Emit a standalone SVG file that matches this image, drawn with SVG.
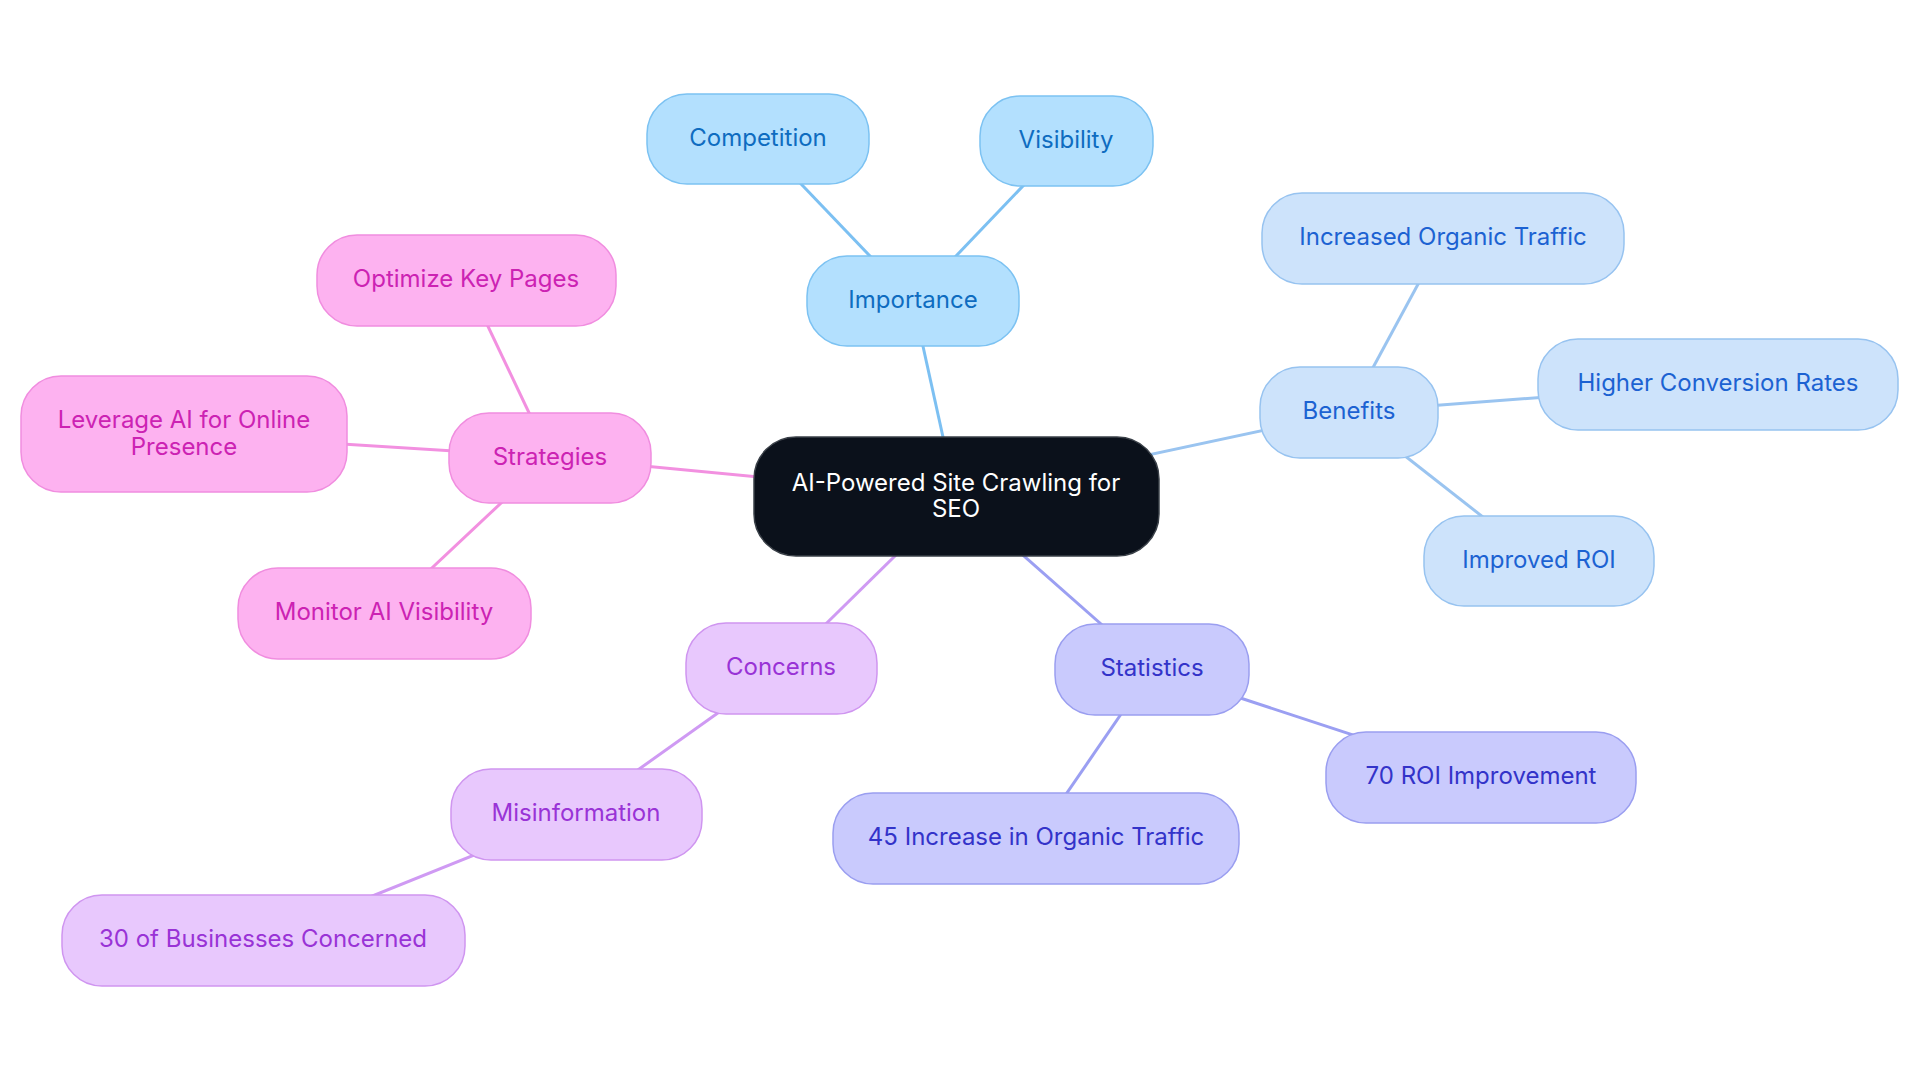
<svg xmlns="http://www.w3.org/2000/svg" width="1920" height="1083" viewBox="0 0 1920 1083">
<style>
text{font-family:Inter,"Noto Sans","Liberation Sans",sans-serif;font-size:24px;text-anchor:middle}
.e{stroke-width:3;fill:none}
.imp rect{fill:#b3e0fe;stroke:#7cc2f2;stroke-width:1.5}
.imp text{fill:#0e6cc0}
.ben rect{fill:#cde3fb;stroke:#97c3f0;stroke-width:1.5}
.ben text{fill:#1c62d2}
.sta rect{fill:#c9cafd;stroke:#9a9ef0;stroke-width:1.5}
.sta text{fill:#3333c9}
.con rect{fill:#e8c8fd;stroke:#cf95f0;stroke-width:1.5}
.con text{fill:#9933d6}
.str rect{fill:#fdb2f0;stroke:#f08ddf;stroke-width:1.5}
.str text{fill:#cc22b3}
</style>
<rect width="1920" height="1083" fill="#ffffff"/>
<g id="connectors">
<line class="e" stroke="#7cc0f2" x1="956" y1="496" x2="913" y2="301"/>
<line class="e" stroke="#7cc0f2" x1="913" y1="301" x2="758" y2="139"/>
<line class="e" stroke="#7cc0f2" x1="913" y1="301" x2="1066" y2="141"/>
<line class="e" stroke="#9ac4f0" x1="956" y1="496" x2="1349" y2="412"/>
<line class="e" stroke="#9ac4f0" x1="1349" y1="412" x2="1443" y2="238"/>
<line class="e" stroke="#9ac4f0" x1="1349" y1="412" x2="1718" y2="384"/>
<line class="e" stroke="#9ac4f0" x1="1349" y1="412" x2="1539" y2="561"/>
<line class="e" stroke="#9b9ff2" x1="956" y1="496" x2="1152" y2="669"/>
<line class="e" stroke="#9b9ff2" x1="1152" y1="669" x2="1481" y2="777"/>
<line class="e" stroke="#9b9ff2" x1="1152" y1="669" x2="1036" y2="838"/>
<line class="e" stroke="#cf9af3" x1="956" y1="496" x2="781" y2="668"/>
<line class="e" stroke="#cf9af3" x1="781" y1="668" x2="576" y2="814"/>
<line class="e" stroke="#cf9af3" x1="576" y1="814" x2="263" y2="940"/>
<line class="e" stroke="#f290e0" x1="956" y1="496" x2="550" y2="457"/>
<line class="e" stroke="#f290e0" x1="550" y1="457" x2="466" y2="280"/>
<line class="e" stroke="#f290e0" x1="550" y1="457" x2="184" y2="434"/>
<line class="e" stroke="#f290e0" x1="550" y1="457" x2="384" y2="613"/>
</g>
<g id="central">
<rect x="754" y="437" width="405" height="119" rx="42" fill="#0b111b" stroke="#3a4048" stroke-width="1.5"/>
<text x="956" y="491" fill="#ffffff">AI-Powered Site Crawling for</text>
<text x="956" y="517" fill="#ffffff">SEO</text>
</g>
<g id="importance" class="imp">
<rect x="807" y="256" width="212" height="90" rx="40"/>
<text x="913" y="308">Importance</text>
</g>
<g id="competition" class="imp">
<rect x="647" y="94" width="222" height="90" rx="40"/>
<text x="758" y="146">Competition</text>
</g>
<g id="visibility" class="imp">
<rect x="980" y="96" width="173" height="90" rx="40"/>
<text x="1066" y="148">Visibility</text>
</g>
<g id="benefits" class="ben">
<rect x="1260" y="367" width="178" height="91" rx="40"/>
<text x="1349" y="419">Benefits</text>
</g>
<g id="increased-organic-traffic" class="ben">
<rect x="1262" y="193" width="362" height="91" rx="40"/>
<text x="1443" y="245">Increased Organic Traffic</text>
</g>
<g id="higher-conversion-rates" class="ben">
<rect x="1538" y="339" width="360" height="91" rx="40"/>
<text x="1718" y="391">Higher Conversion Rates</text>
</g>
<g id="improved-roi" class="ben">
<rect x="1424" y="516" width="230" height="90" rx="40"/>
<text x="1539" y="568">Improved ROI</text>
</g>
<g id="statistics" class="sta">
<rect x="1055" y="624" width="194" height="91" rx="40"/>
<text x="1152" y="676">Statistics</text>
</g>
<g id="roi-improvement" class="sta">
<rect x="1326" y="732" width="310" height="91" rx="40"/>
<text x="1481" y="784">70 ROI Improvement</text>
</g>
<g id="organic-traffic-increase" class="sta">
<rect x="833" y="793" width="406" height="91" rx="40"/>
<text x="1036" y="845">45 Increase in Organic Traffic</text>
</g>
<g id="concerns" class="con">
<rect x="686" y="623" width="191" height="91" rx="40"/>
<text x="781" y="675">Concerns</text>
</g>
<g id="misinformation" class="con">
<rect x="451" y="769" width="251" height="91" rx="40"/>
<text x="576" y="821">Misinformation</text>
</g>
<g id="businesses-concerned" class="con">
<rect x="62" y="895" width="403" height="91" rx="40"/>
<text x="263" y="947">30 of Businesses Concerned</text>
</g>
<g id="strategies" class="str">
<rect x="449" y="413" width="202" height="90" rx="40"/>
<text x="550" y="465">Strategies</text>
</g>
<g id="optimize-key-pages" class="str">
<rect x="317" y="235" width="299" height="91" rx="40"/>
<text x="466" y="287">Optimize Key Pages</text>
</g>
<g id="leverage-ai" class="str">
<rect x="21" y="376" width="326" height="116" rx="40"/>
<text x="184" y="428">Leverage AI for Online</text>
<text x="184" y="455">Presence</text>
</g>
<g id="monitor-ai-visibility" class="str">
<rect x="238" y="568" width="293" height="91" rx="40"/>
<text x="384" y="620">Monitor AI Visibility</text>
</g>
</svg>
